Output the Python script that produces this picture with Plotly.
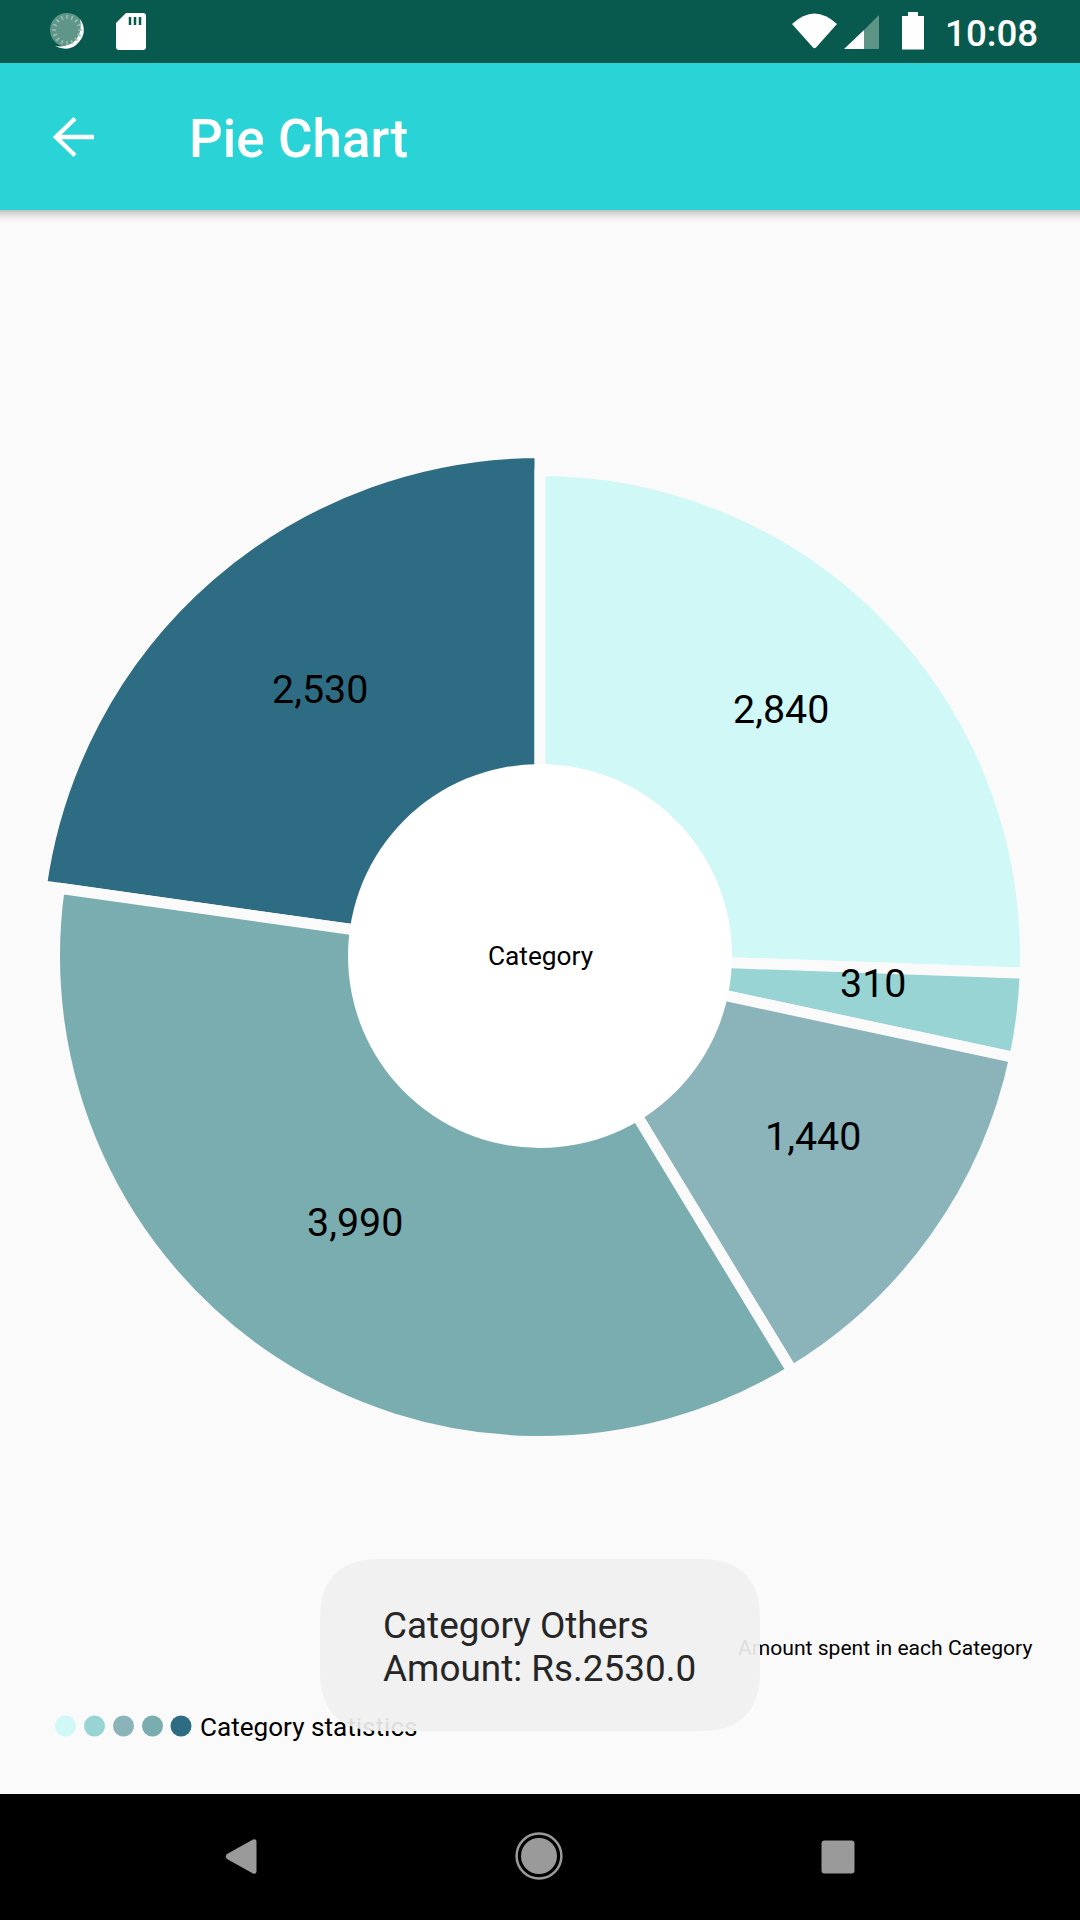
import math
import plotly.graph_objects as go

# Data
categories = ["Food", "Travel", "Bills", "Shopping", "Others"]
amounts = [2840, 310, 1440, 3990, 2530]
slice_colors = ["#cff8f6", "#97d4d3", "#8ab3ba", "#7aadaf", "#2e6c83"]
selected = [False, False, False, False, True]
legend_label = "Category statistics"
description = "Amount spent in each Category"
center_label = "Category"
toast_lines = ["Category Others", "Amount: Rs.2530.0"]
app_title = "Pie Chart"
clock_text = "10:08"

# Layout constants
W, H = 1080, 1920
CX, CY = 540, 956
R_OUT, R_SEL, R_HOLE = 480, 498, 192
R_LABEL, LABEL_DY = 335.5, -13.5
GAP = 11
BG = "#fafafa"
FONT = "Roboto"
CLEAR = "rgba(0,0,0,0)"


def pie_domain(radius):
    return dict(x=[(CX - radius) / W, (CX + radius) / W],
                y=[(H - CY - radius) / H, (H - CY + radius) / H])


fig = go.Figure()

# Overlaid text drawn as a trace, so that the toast shape can sit on top of it
fig.add_trace(go.Scatter(
    x=[65.5, 94.5, 123.5, 152.5, 181], y=[1726] * 5, mode="markers",
    marker=dict(size=21, color=slice_colors, line=dict(width=0)),
    hoverinfo="skip", showlegend=False))
fig.add_trace(go.Scatter(
    x=[200, 738], y=[1729.5, 1650], mode="text", text=[legend_label, description],
    textposition="middle right",
    textfont=dict(family=FONT, color="#000000", size=[26.1, 21.1]),
    hoverinfo="skip", showlegend=False))

# The highlighted slice grows outward from the same centre, so it gets its own, larger pie
r_big = R_SEL + GAP / 2
fig.add_trace(go.Pie(
    labels=categories, values=amounts, sort=False, direction="clockwise", rotation=0,
    hole=(R_HOLE - 20) / r_big, domain=pie_domain(r_big),
    marker=dict(colors=[c if s else CLEAR for c, s in zip(slice_colors, selected)],
                line=dict(color=[BG if s else CLEAR for s in selected],
                          width=[GAP if s else 0 for s in selected])),
    textinfo="none", showlegend=False, hoverinfo="skip"))
r_small = R_OUT + GAP / 2
fig.add_trace(go.Pie(
    labels=categories, values=amounts, sort=False, direction="clockwise", rotation=0,
    hole=(R_HOLE - 20) / r_small, domain=pie_domain(r_small),
    marker=dict(colors=[CLEAR if s else c for c, s in zip(slice_colors, selected)],
                line=dict(color=[CLEAR if s else BG for s in selected],
                          width=[0 if s else GAP for s in selected])),
    textinfo="none", showlegend=False, hoverinfo="label+value"))


def rect(x0, y0, x1, y1, color, **kw):
    return dict(type="rect", x0=x0, y0=y0, x1=x1, y1=y1, xref="x", yref="y",
                fillcolor=color, line=dict(width=0), layer="above", **kw)


def path(d, fill=None, stroke=None, width=0, **kw):
    return dict(type="path", path=d, xref="x", yref="y", layer="above",
                fillcolor=fill or CLEAR,
                line=dict(color=stroke or CLEAR, width=width), **kw)


def circle(cx, cy, r, fill=None, stroke=None, width=0, **kw):
    return dict(type="circle", x0=cx - r, x1=cx + r, y0=cy - r, y1=cy + r,
                xref="x", yref="y", layer="above",
                fillcolor=fill or CLEAR,
                line=dict(color=stroke or CLEAR, width=width), **kw)


def round_rect(x0, y0, x1, y1, r):
    return (f"M{x0+r},{y0} L{x1-r},{y0} Q{x1},{y0} {x1},{y0+r} L{x1},{y1-r} Q{x1},{y1} {x1-r},{y1} "
            f"L{x0+r},{y1} Q{x0},{y1} {x0},{y1-r} L{x0},{y0+r} Q{x0},{y0} {x0+r},{y0} Z")


shapes = []
# hole
shapes.append(circle(CX, CY, R_HOLE, fill="#ffffff"))
# app bar shadow
for i in range(14):
    shapes.append(rect(0, 210 + i, W, 211 + i, "rgba(0,0,0,%.3f)" % (0.22 * (1 - i / 14) ** 2)))
# status bar and app bar
shapes.append(rect(0, 0, W, 63, "#075a4d"))
shapes.append(rect(0, 63, W, 210, "#2ad3d6"))
# navigation bar
shapes.append(rect(0, 1794, W, H, "#000000"))
# toast
shapes.append(path(round_rect(320, 1559, 760, 1731, 60), fill="#f0f0f0", opacity=0.92))
# back arrow
shapes.append(path("M94,137 L57,137 M75,118.5 L56,137 L75,155.5", stroke="#ffffff", width=4.5))
# status icons: clock-like, sd card
shapes.append(circle(67, 30, 17, fill="#5f9688"))
shapes.append(path("M80,19 Q89,33 76,45 Q67,52 55,46 Q68,48 76,40 Q83,30 80,19 Z", fill="#ffffff"))
ticks = ""
for i in range(16):
    a = 2 * math.pi * i / 16
    ticks += (f"M{67 + 11 * math.sin(a):.1f},{30 - 11 * math.cos(a):.1f} "
              f"L{67 + 15 * math.sin(a):.1f},{30 - 15 * math.cos(a):.1f} ")
shapes.append(path(ticks, stroke="#9dc0b7", width=1.5))
shapes.append(path("M126,13 L143,13 Q146,13 146,16 L146,47 Q146,50 143,50 L119,50 Q116,50 116,47 L116,23 Z",
                   fill="#ffffff"))
shapes.append(path("M130,17 L130,25 M135,17 L135,25 M140,17 L140,25", stroke="#075a4d", width=2.5))
# wifi
shapes.append(path("M792,24 Q814.5,3 837,24 L816,47.5 Q814.5,49 813,47.5 Z", fill="#ffffff"))
# signal
shapes.append(path("M864,30 L879,15 L879,49 L864,49 Z", fill="#5c9486"))
shapes.append(path("M864,30 L864,49 L844,49 Z", fill="#ffffff"))
# battery
shapes.append(path("M908,12 L918,12 L918,16 L924,16 L924,49.5 L902,49.5 L902,16 L908,16 Z", fill="#ffffff"))
# navigation icons
shapes.append(path("M227,1854 L253,1839.5 Q256.5,1838.5 256.5,1842 L256.5,1871 Q256.5,1874.5 253,1873.5 "
                   "L227,1859 Q224.5,1856.5 227,1854 Z", fill="#9a9a9a"))
shapes.append(circle(539, 1856, 22.4, stroke="#9a9a9a", width=2.5))
shapes.append(circle(539, 1856, 18, fill="#9a9a9a"))
shapes.append(path(round_rect(821.5, 1840.5, 854.5, 1873.5, 3), fill="#9a9a9a"))


def note(text, x, y, size, color, anchor="left", weight=None):
    font = dict(family=FONT, size=size, color=color)
    if weight:
        font["weight"] = weight
    return dict(text=text, x=x, y=y, xref="x", yref="y", showarrow=False,
                xanchor=anchor, yanchor="middle", font=font)


annotations = [
    note(center_label, CX + 1, CY, 26.25, "#000000", "center"),
    note(app_title, 187, 139, 53, "#ffffff", weight=500),
    note(clock_text, 943, 33, 36.75, "#ffffff", weight=500),
    note(toast_lines[0], 381, 1625, 36.9, "#262626"),
    note(toast_lines[1], 381, 1668, 36.9, "#262626"),
]

# Value labels sit on the ring at each slice's mid-angle
total = sum(amounts)
running = 0
for value in amounts:
    mid = 2 * math.pi * (running + value / 2) / total
    running += value
    annotations.append(note(f"{value:,}",
                            CX + R_LABEL * math.sin(mid),
                            CY - R_LABEL * math.cos(mid) + LABEL_DY,
                            39.4, "#000000", "center"))

fig.update_layout(
    width=W, height=H, autosize=False,
    margin=dict(l=0, r=0, t=0, b=0),
    paper_bgcolor=BG, plot_bgcolor=BG,
    xaxis=dict(range=[0, W], visible=False, domain=[0, 1]),
    yaxis=dict(range=[H, 0], visible=False, domain=[0, 1]),
    shapes=shapes, annotations=annotations,
)

fig.write_html("out.html", config={"displayModeBar": False},
               post_script="document.body.style.margin='0';document.documentElement.style.overflow='hidden';")
